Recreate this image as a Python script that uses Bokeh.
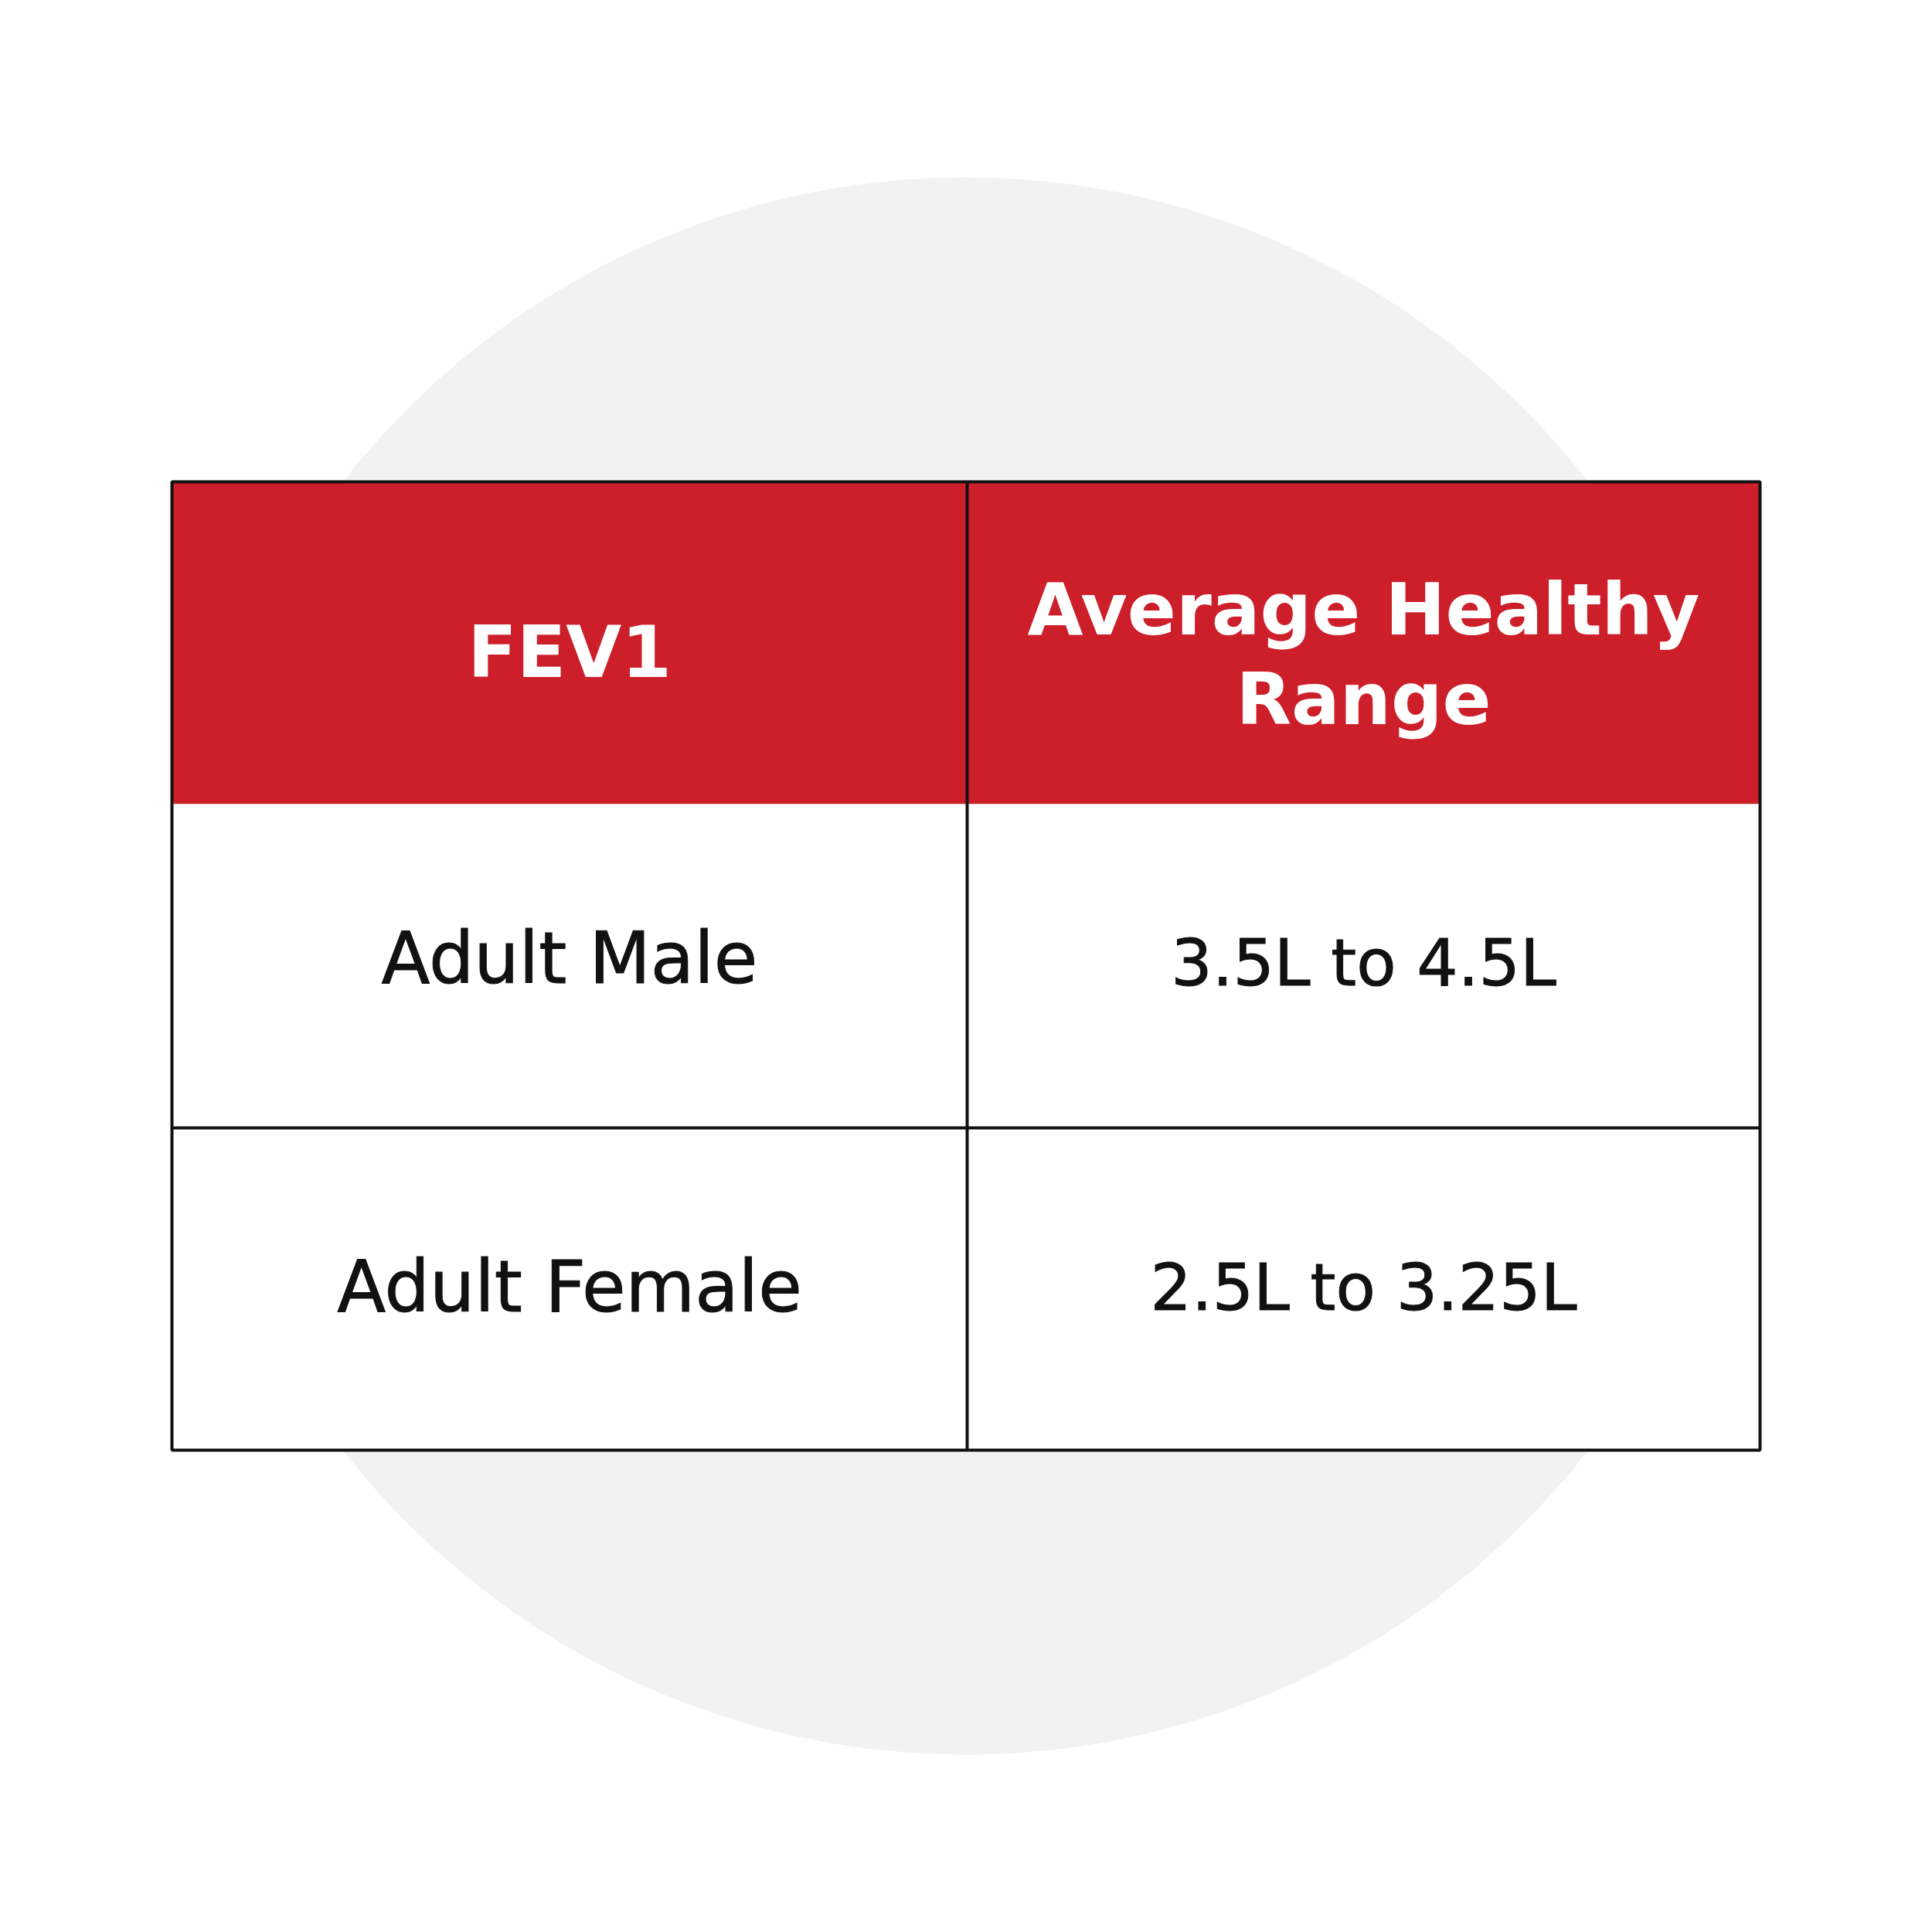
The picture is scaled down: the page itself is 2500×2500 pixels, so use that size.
from bokeh.plotting import figure
from bokeh.models import Range1d
from bokeh.embed import file_html
from bokeh.resources import INLINE
from bokeh.core.properties import value

# ---- data ----
header_labels = ["FEV1", "Average Healthy\nRange"]
row_labels = ["Adult Male", "Adult Female"]
range_values = ["3.5L to 4.5L", "2.5L to 3.25L"]

# ---- layout (pixel coordinates) ----
W = H = 2484
col_edges = [222, 1251, 2277]
row_edges = [623, 1040, 1459, 1876]
RED = "#CC1F2A"
LINE = "#111111"

p = figure(width=W, height=H, output_backend="svg", toolbar_location=None,
           x_range=Range1d(0, W), y_range=Range1d(H, 0),
           min_border=0, border_fill_color="white", background_fill_color="white")
p.axis.visible = False
p.grid.visible = False
p.outline_line_color = None

# background circle
p.circle(x=[1249], y=[1249.5], radius=1020.5, fill_color="#F2F2F2", line_color=None)

# cells
n_rows = len(row_labels) + 1
lefts, rights, tops, bottoms, fills = [], [], [], [], []
for r in range(n_rows):
    for c in range(2):
        lefts.append(col_edges[c]); rights.append(col_edges[c + 1])
        tops.append(row_edges[r]); bottoms.append(row_edges[r + 1])
        fills.append(RED if r == 0 else "white")
p.quad(left=lefts, right=rights, top=tops, bottom=bottoms, fill_color=fills, line_color=None)

# grid lines
p.quad(left=[col_edges[0]], right=[col_edges[-1]], top=[row_edges[0]], bottom=[row_edges[-1]],
       fill_color=None, line_color=LINE, line_width=4)
p.segment(x0=[col_edges[1]], x1=[col_edges[1]], y0=[row_edges[0]], y1=[row_edges[-1]],
          line_color=LINE, line_width=4)
mid_rows = row_edges[2:-1]
p.segment(x0=[col_edges[0]] * len(mid_rows), x1=[col_edges[-1]] * len(mid_rows),
          y0=mid_rows, y1=mid_rows, line_color=LINE, line_width=4)

cx = [(col_edges[i] + col_edges[i + 1]) / 2 for i in range(2)]
cy = [(row_edges[i] + row_edges[i + 1]) / 2 for i in range(n_rows)]

# header text
p.text(x=cx, y=[cy[0] + 12, cy[0] + 15], text=header_labels, text_color="white",
       text_font=value("DejaVu Sans"), text_font_style="bold", text_font_size="93px",
       text_align="center", text_baseline="middle", text_line_height=1.08)

# body text
r1 = p.text(x=[cx[0]] * len(row_labels), y=[cy[1] - 10, cy[2] - 3], text=row_labels,
            text_color="#111111", text_font=value("DejaVu Sans"), text_font_size="92px",
            text_align="center", text_baseline="middle")
r2 = p.text(x=[cx[1]] * len(range_values), y=[cy[1] - 4, cy[2] - 2], text=range_values,
            text_color="#111111", text_font=value("DejaVu Sans"), text_font_size="84px",
            text_align="center", text_baseline="middle")
for rr, w in ((r1, 1.5), (r2, 3.0)):
    try:
        rr.glyph.text_outline_color = "#111111"
        rr.glyph.text_outline_width = w
    except Exception:
        pass

open("out.html", "w").write(file_html(p, INLINE))
